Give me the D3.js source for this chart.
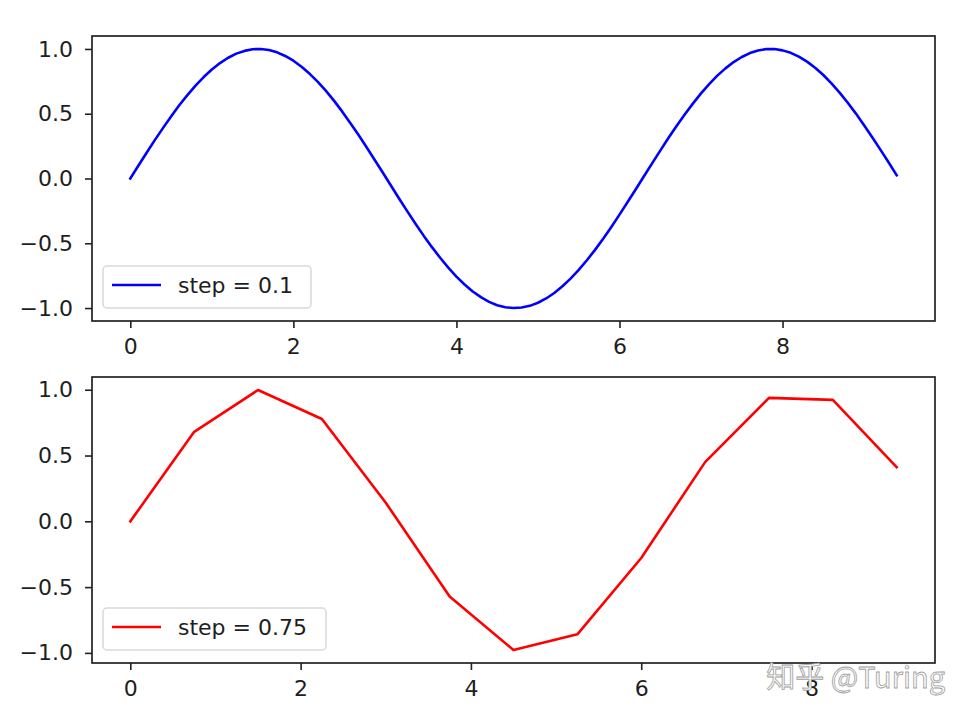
<!DOCTYPE html>
<html>
<head>
<meta charset="utf-8">
<script src="https://cdn.jsdelivr.net/npm/d3@7"></script>
<style>
  body { margin: 0; background: #fff; }
  svg { display: block; font-family: "DejaVu Sans", sans-serif; }
  .tick text { fill: #1e1e1e; font-size: 22px; }
</style>
</head>
<body>
<svg></svg>
<script>
// step = 0.1 series
var xFine = [0,0.1,0.2,0.3,0.4,0.5,0.6,0.7,0.8,0.9,1,1.1,1.2,1.3,1.4,1.5,1.6,1.7,1.8,1.9,
  2,2.1,2.2,2.3,2.4,2.5,2.6,2.7,2.8,2.9,3,3.1,3.2,3.3,3.4,3.5,3.6,3.7,3.8,3.9,
  4,4.1,4.2,4.3,4.4,4.5,4.6,4.7,4.8,4.9,5,5.1,5.2,5.3,5.4,5.5,5.6,5.7,5.8,5.9,
  6,6.1,6.2,6.3,6.4,6.5,6.6,6.7,6.8,6.9,7,7.1,7.2,7.3,7.4,7.5,7.6,7.7,7.8,7.9,
  8,8.1,8.2,8.3,8.4,8.5,8.6,8.7,8.8,8.9,9,9.1,9.2,9.3,9.4];
var yFine = [0,0.1,0.199,0.296,0.389,0.479,0.565,0.644,0.717,0.783,0.841,0.891,0.932,0.964,0.985,0.998,1.0,0.992,0.974,0.946,
  0.909,0.863,0.808,0.746,0.676,0.599,0.516,0.427,0.335,0.239,0.141,0.042,-0.058,-0.158,-0.256,-0.351,-0.443,-0.53,-0.612,-0.688,
  -0.757,-0.818,-0.872,-0.916,-0.952,-0.978,-0.994,-1.0,-0.996,-0.983,-0.959,-0.926,-0.884,-0.832,-0.773,-0.706,-0.631,-0.551,-0.465,-0.374,
  -0.279,-0.182,-0.083,0.017,0.117,0.215,0.312,0.405,0.494,0.578,0.657,0.729,0.794,0.85,0.899,0.938,0.968,0.988,0.999,0.999,
  0.989,0.97,0.941,0.902,0.855,0.799,0.734,0.663,0.585,0.501,0.412,0.319,0.223,0.125,0.025];

// step = 0.75 series (bottom panel)
var xCoarse = [0,0.75,1.5,2.25,3,3.75,4.5,5.25,6,6.75,7.5,8.25,9];
var yCoarse = [0,0.68,0.998,0.778,0.141,-0.572,-0.978,-0.859,-0.279,0.45,0.938,0.923,0.412];

var xTicks = [0,2,4,6,8];
var yTicks = [-1,-0.5,0,0.5,1];

var width = 970, height = 721;
var svg = d3.select("svg").attr("width", width).attr("height", height);

var panels = [
  {xs: xFine, ys: yFine, color: "#0000ff", label: "step = 0.1", top: 36, bottom: 321, legendW: 208},
  {xs: xCoarse, ys: yCoarse, color: "#ff0000", label: "step = 0.75", top: 377, bottom: 663, legendW: 223}
];
var left = 92, right = 935;

// matplotlib style 5% margins
function padded(ext) {
  var m = (ext[1] - ext[0]) * 0.05;
  return [ext[0] - m, ext[1] + m];
}

panels.forEach(p => {
  var x = d3.scaleLinear().domain(padded(d3.extent(p.xs))).range([left, right]);
  var y = d3.scaleLinear().domain(padded(d3.extent(p.ys))).range([p.bottom, p.top]);
  var g = svg.append("g");

  var line = d3.line().x(d => x(d[0])).y(d => y(d[1]));
  g.append("path")
    .datum(d3.zip(p.xs, p.ys))
    .attr("d", line)
    .attr("fill", "none")
    .attr("stroke", p.color)
    .attr("stroke-width", 2.6)
    .attr("stroke-linejoin", "round")
    .attr("stroke-linecap", "square");

  var xAxis = g.append("g")
    .attr("transform", `translate(0,${p.bottom})`)
    .call(d3.axisBottom(x).tickValues(xTicks).tickFormat(d3.format("d")).tickSize(7).tickPadding(10));
  var yAxis = g.append("g")
    .attr("transform", `translate(${left},0)`)
    .call(d3.axisLeft(y).tickValues(yTicks).tickFormat(d3.format(".1f")).tickSize(7).tickPadding(12));
  [xAxis, yAxis].forEach(a => {
    a.select(".domain").remove();
    a.selectAll(".tick line").attr("stroke", "#222").attr("stroke-width", 1.6);
    a.selectAll(".tick text").attr("font-family", "DejaVu Sans");
  });

  // frame
  g.append("rect")
    .attr("x", left).attr("y", p.top)
    .attr("width", right - left).attr("height", p.bottom - p.top)
    .attr("fill", "none").attr("stroke", "#222").attr("stroke-width", 1.7);

  // legend lower left
  var lx = 103, ly = p.bottom - 55;
  var leg = g.append("g").attr("transform", `translate(${lx},${ly})`);
  leg.append("rect")
    .attr("width", p.legendW).attr("height", 42)
    .attr("rx", 4)
    .attr("fill", "#fff").attr("fill-opacity", 0.8)
    .attr("stroke", "#d9d9d9").attr("stroke-width", 1.5);
  leg.append("line")
    .attr("x1", 9).attr("x2", 58).attr("y1", 19).attr("y2", 19)
    .attr("stroke", p.color).attr("stroke-width", 2.6);
  leg.append("text")
    .attr("x", 75).attr("y", 27)
    .attr("font-size", 22).attr("fill", "#1e1e1e")
    .text(p.label);
});

// watermark (overlaps the "8" tick as in the source image)
svg.append("text")
  .attr("x", 945).attr("y", 688)
  .attr("text-anchor", "end")
  .attr("font-family", "Noto Sans CJK SC")
  .attr("font-size", 29)
  .attr("fill", "#fafafa")
  .attr("stroke", "#a0a0a0")
  .attr("stroke-width", 0.8)
  .text("知乎 @Turing");
</script>
</body>
</html>
